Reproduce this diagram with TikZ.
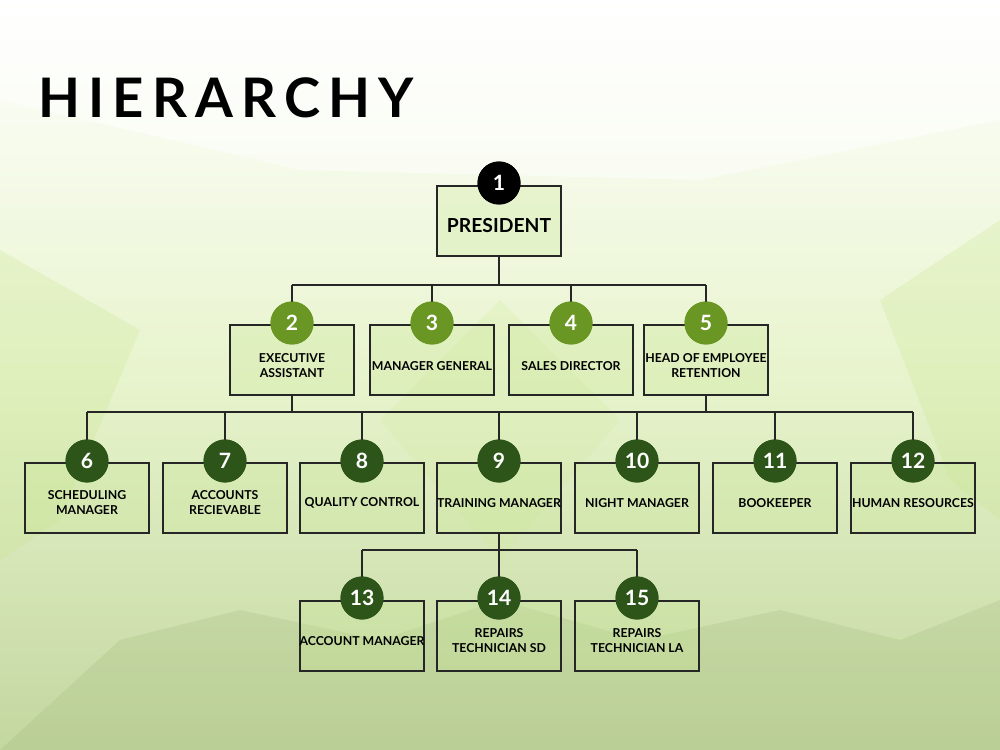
\documentclass[tikz,border=0pt]{standalone}
\usepackage{fontspec}
\setmainfont{Lato}
\definecolor{bgA}{RGB}{150,175,110}
\definecolor{bgB}{RGB}{200,230,140}
\definecolor{bgC}{RGB}{210,235,160}
\definecolor{bgBot}{RGB}{195,215,160}
\definecolor{bgMid}{RGB}{232,244,205}
\definecolor{gA}{RGB}{106,150,35}
\definecolor{gB}{RGB}{45,85,25}
\definecolor{boxfill}{RGB}{200,230,150}
\begin{document}
\begin{tikzpicture}[x=0.02cm,y=-0.02cm,
  box/.style={draw=black!85,line width=1pt,fill=boxfill,fill opacity=0.3,minimum width=2.48cm,minimum height=1.4cm},
  lbl/.style={align=center,font=\bfseries\fontsize{7}{8.5}\selectfont,inner sep=0pt},
  num/.style={circle,minimum size=0.86cm,inner sep=0pt,text=white,font=\bfseries\fontsize{12}{12}\selectfont},
  lv1/.style={num,fill=black},
  lv2/.style={num,fill=gA},
  lv3/.style={num,fill=gB},
  link/.style={draw=black!85,line width=1pt}]
\useasboundingbox (0,0) rectangle (1000,750);
\shade[top color=white, bottom color=bgBot, middle color=bgMid] (0,0) rectangle (1000,750);
\fill[bgA,opacity=0.2] (0,750) -- (120,640) -- (240,610) -- (380,640) -- (500,600) -- (640,640) -- (780,610) -- (900,640) -- (1000,600) -- (1000,750) -- cycle;
\fill[bgB,opacity=0.25] (0,250) -- (140,330) -- (60,520) -- (0,560) -- cycle;
\fill[bgB,opacity=0.25] (1000,220) -- (880,300) -- (950,480) -- (1000,520) -- cycle;
\fill[bgC,opacity=0.25] (380,420) -- (500,300) -- (620,420) -- (500,560) -- cycle;
\fill[white,opacity=0.5] (0,0) -- (1000,0) -- (1000,120) -- (700,180) -- (300,170) -- (0,100) -- cycle;
% title
\node[anchor=west,font=\fontsize{31}{31}\selectfont\bfseries,inner sep=0pt] (title) at (38,98) {\addfontfeature{LetterSpace=15}HIERARCHY};
% boxes
\node[box] (b1) at (499,221) {};
\node[lbl,font=\bfseries\fontsize{11}{13}\selectfont] (t1) at (499,226) {PRESIDENT};
\node[lv1] (c1) at (499,183) {1};
\foreach \n/\x/\t in {2/292/{EXECUTIVE\\ASSISTANT},3/432/{MANAGER GENERAL},4/571/{SALES DIRECTOR},5/706/{HEAD OF EMPLOYEE\\RETENTION}}{
  \node[box] (b\n) at (\x,360) {};
  \node[lbl] (t\n) at (\x,366) {\t};
  \node[lv2] (c\n) at (\x,323) {\n};
}
\foreach \n/\x/\t in {6/87/{SCHEDULING\\MANAGER},7/225/{ACCOUNTS\\RECIEVABLE},8/362/{QUALITY CONTROL},9/499/{TRAINING MANAGER},10/637/{NIGHT MANAGER},11/775/{BOOKEEPER},12/913/{HUMAN RESOURCES}}{
  \node[box] (b\n) at (\x,498) {};
  \node[lbl] (t\n) at (\x,503) {\t};
  \node[lv3] (c\n) at (\x,461) {\n};
}
\foreach \n/\x/\t in {13/362/{ACCOUNT MANAGER},14/499/{REPAIRS\\TECHNICIAN SD},15/637/{REPAIRS\\TECHNICIAN LA}}{
  \node[box] (b\n) at (\x,636) {};
  \node[lbl] (t\n) at (\x,641) {\t};
  \node[lv3] (c\n) at (\x,598) {\n};
}
% connectors
\coordinate (j1) at (499,285);
\draw[link] (b1.south) -- (j1);
\draw[link] (c2 |- j1) -- (c5 |- j1);
\foreach \n in {2,3,4,5} \draw[link] (c\n |- j1) -- (b\n.north);
\coordinate (j2) at (499,412);
\draw[link] (c6 |- j2) -- (c12 |- j2);
\draw[link] (b2.south) -- (c2 |- j2);
\draw[link] (b5.south) -- (c5 |- j2);
\foreach \n in {6,...,12} \draw[link] (c\n |- j2) -- (b\n.north);
\coordinate (j3) at (499,550);
\draw[link] (b9.south) -- (j3);
\draw[link] (c13 |- j3) -- (c15 |- j3);
\foreach \n in {13,14,15} \draw[link] (c\n |- j3) -- (b\n.north);
% redraw circles on top
\node[lv1] at (c1) {1};
\foreach \n/\x in {2/292,3/432,4/571,5/706} \node[lv2] at (\x,323) {\n};
\foreach \n/\x in {6/87,7/225,8/362,9/499,10/637,11/775,12/913} \node[lv3] at (\x,461) {\n};
\foreach \n/\x in {13/362,14/499,15/637} \node[lv3] at (\x,598) {\n};
\end{tikzpicture}
\end{document}
